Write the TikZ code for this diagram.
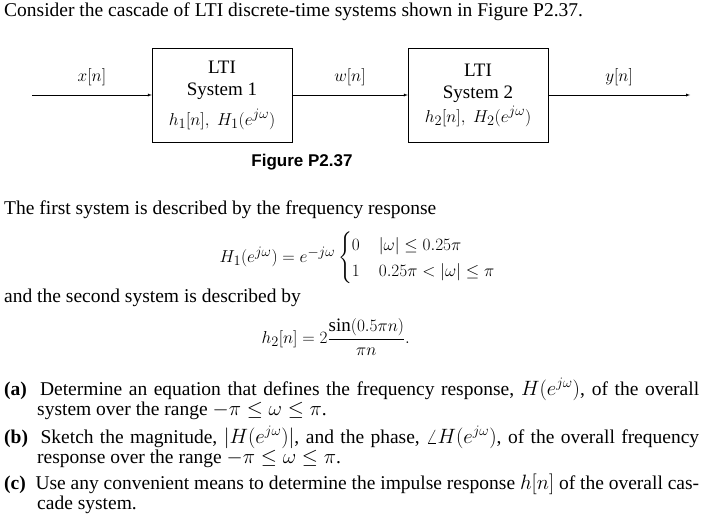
\documentclass[tikz,border=0pt]{standalone}
\usepackage{amsmath}
\usepackage{fontspec}
\setmainfont{Liberation Serif}
\newfontfamily\sansf{Liberation Sans}
\begin{document}
\begin{tikzpicture}[x=1pt,y=-1pt,
  txt/.style={anchor=west,inner sep=0pt,font=\fontsize{19.5}{22}\selectfont},
  blk/.style={draw,minimum width=140pt,minimum height=94pt,inner sep=0pt,font=\fontsize{19}{22}\selectfont,align=center},
  sig/.style={->,>=latex},
  lab/.style={font=\fontsize{19}{22}\selectfont}]
\useasboundingbox (0,0) rectangle (703,514);
\node[txt] (t0) at (4,12) {Consider the cascade of LTI discrete-time systems shown in Figure P2.37.};
\node[blk] (b1) at (222,95) {LTI\\System 1\\[8pt]$h_1[n],\ H_1(e^{j\omega})$};
\node[blk] (b2) at (478,95) {LTI\\System 2\\[2pt]$h_2[n],\ H_2(e^{j\omega})$};
\coordinate (in) at (32,95);
\coordinate (out) at (690,95);
\draw[sig] (in) -- node[lab,above=6pt]{$x[n]$} (b1);
\draw[sig] (b1) -- node[lab,above=6pt]{$w[n]$} (b2);
\draw[sig] (b2) -- node[lab,above=6pt]{$y[n]$} (out);
\node[font=\sansf\bfseries\fontsize{17}{19}\selectfont] (cap) at (302,162) {Figure P2.37};
\node[txt] (t1) at (4,210) {The first system is described by the frequency response};
\node[lab,anchor=west] (e1) at (216,258) {$H_1(e^{j\omega})=e^{-j\omega}\begin{cases}0 & |\omega|\le 0.25\pi\\ 1 & 0.25\pi<|\omega|\le\pi\end{cases}$};
\node[txt] (t2) at (4,298) {and the second system is described by};
\node[lab,anchor=west] (e2) at (258,337) {$h_2[n]=2\dfrac{\sin(0.5\pi n)}{\pi n}.$};
\node[anchor=north west,inner sep=0pt,text width=695pt,font=\fontsize{19.5}{20}\selectfont,align=justify] (q) at (4,378) {\parskip=6pt
\hangindent=33pt\hangafter=1\textbf{(a)}~~Determine an equation that defines the frequency response, $H(e^{j\omega})$, of the overall system over the range $-\pi\le\omega\le\pi$.\par
\hangindent=33pt\hangafter=1\textbf{(b)}~~Sketch the magnitude, $|H(e^{j\omega})|$, and the phase, $\angle H(e^{j\omega})$, of the overall frequency response over the range $-\pi\le\omega\le\pi$.\par
\hangindent=33pt\hangafter=1\textbf{(c)}~~Use any convenient means to determine the impulse response $h[n]$ of the overall cascade system.\par};
\end{tikzpicture}
\end{document}
